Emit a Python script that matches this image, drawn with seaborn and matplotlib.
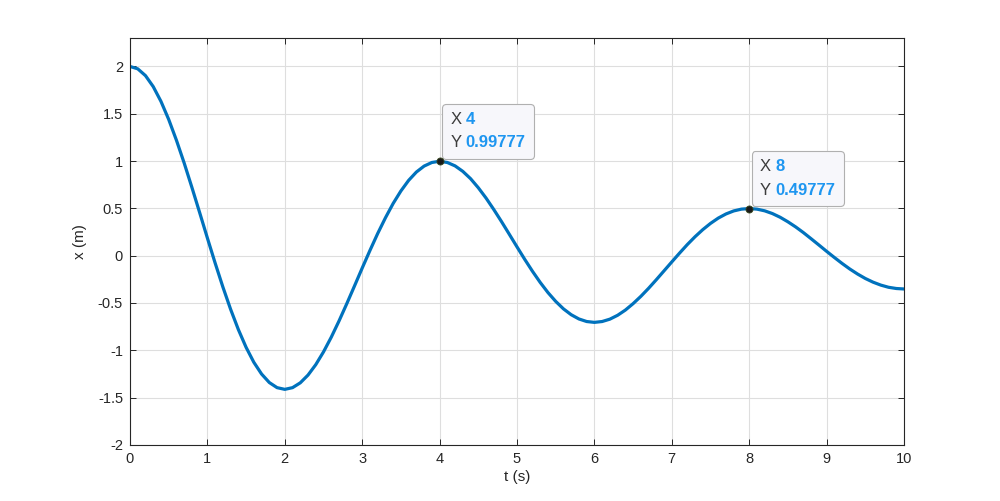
import matplotlib
matplotlib.use("Agg")
import matplotlib.pyplot as plt
import seaborn as sns
import numpy as np
import pandas as pd
from matplotlib.offsetbox import AnnotationBbox, TextArea, HPacker, VPacker

# --- DATA (t step 0.1 s) ---
t_s = [round(0.1 * i, 1) for i in range(101)]
x_m = [
    2.000, 1.975, 1.903, 1.787, 1.631, 1.440, 1.220, 0.979, 0.721, 0.455,
    0.186, -0.078, -0.331, -0.567, -0.781, -0.969, -1.127, -1.251, -1.341, -1.395,
    -1.413, -1.395, -1.344, -1.262, -1.152, -1.017, -0.862, -0.691, -0.509, -0.321,
    -0.131, 0.055, 0.234, 0.400, 0.552, 0.684, 0.796, 0.884, 0.947, 0.985,
    0.998, 0.985, 0.949, 0.891, 0.814, 0.718, 0.609, 0.488, 0.360, 0.227,
    0.093, -0.039, -0.165, -0.283, -0.390, -0.483, -0.562, -0.624, -0.669, -0.696,
    -0.705, -0.696, -0.671, -0.630, -0.575, -0.507, -0.430, -0.345, -0.254, -0.160,
    -0.066, 0.027, 0.117, 0.200, 0.275, 0.341, 0.397, 0.441, 0.473, 0.492,
    0.498, 0.492, 0.474, 0.445, 0.406, 0.358, 0.304, 0.244, 0.179, 0.113,
    0.046, -0.019, -0.082, -0.141, -0.194, -0.241, -0.280, -0.311, -0.334, -0.347,
    -0.352,
]
tip_t = [4, 8]
tip_x = [0.99777, 0.49777]
tip_labels = ["0.99777", "0.49777"]

xticks = list(range(0, 11))
yticks = [-2, -1.5, -1, -0.5, 0, 0.5, 1, 1.5, 2]
ytick_labels = ["-2", "-1.5", "-1", "-0.5", "0", "0.5", "1", "1.5", "2"]

# --- STYLE ---
sns.set_theme(style="ticks")
plt.rcParams['font.family'] = ['Liberation Sans', 'DejaVu Sans']

LINE_C = "#0072BD"
AX_C = "#262626"
TIP_C = "#1E96F0"

fig = plt.figure(figsize=(10, 5.01), dpi=100)
ax = fig.add_axes([0.13, 0.112, 0.774, 0.812])

df = pd.DataFrame({"t": t_s, "x": x_m})
sns.lineplot(data=df, x="t", y="x", ax=ax, color=LINE_C, linewidth=2.3)

ax.set_xlim(0, 10)
ax.set_ylim(-2, 2.3)
ax.set_xticks(xticks)
ax.set_yticks(yticks)
ax.set_yticklabels(ytick_labels)
ax.grid(True, color="#DEDEDE", linewidth=0.8)
ax.set_axisbelow(True)
ax.tick_params(direction="in", length=4, width=0.7, colors=AX_C, labelsize=10.5,
               top=True, right=True, labelcolor=AX_C, pad=5)
for sp in ax.spines.values():
    sp.set_color(AX_C)
    sp.set_linewidth(0.8)
ax.set_xlabel("t (s)", fontsize=11, color=AX_C, labelpad=3)
ax.set_ylabel("x (m)", fontsize=11, color=AX_C, labelpad=8)

# data tips
lab_props = dict(color="#3C3C3C", fontsize=12, family=['Liberation Sans', 'DejaVu Sans'])
val_props = dict(color=TIP_C, fontsize=12, fontweight="bold", family=['Liberation Sans', 'DejaVu Sans'])
for tt, xx, lab in zip(tip_t, tip_x, tip_labels):
    row1 = HPacker(children=[TextArea("X", textprops=lab_props), TextArea(str(tt), textprops=val_props)],
                   align="baseline", pad=0, sep=3)
    row2 = HPacker(children=[TextArea("Y", textprops=lab_props), TextArea(lab, textprops=val_props)],
                   align="baseline", pad=0, sep=3)
    box = VPacker(children=[row1, row2], align="left", pad=0, sep=6)
    ab = AnnotationBbox(box, (tt, xx), xycoords="data", xybox=(7.8, 7.8), boxcoords="offset points",
                        box_alignment=(0, 0), frameon=True, pad=0.55,
                        bboxprops=dict(boxstyle="round,pad=0.55,rounding_size=0.25",
                                       facecolor="#F7F7FB", edgecolor="#B0B0B0", linewidth=0.8),
                        zorder=6)
    ax.add_artist(ab)
ax.scatter(tip_t, tip_x, s=26, color="#1a1a1a", edgecolor="#3a4a20", linewidth=0.6, zorder=7)

fig.savefig("out.png", dpi=100)
